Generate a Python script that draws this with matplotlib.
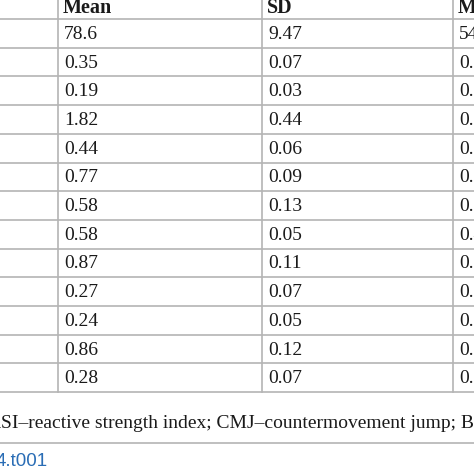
import matplotlib.pyplot as plt

means = ["78.6", "0.35", "0.19", "1.82", "0.44", "0.77", "0.58", "0.58",
         "0.87", "0.27", "0.24", "0.86", "0.28"]
sds = ["9.47", "0.07", "0.03", "0.44", "0.06", "0.09", "0.13", "0.05",
       "0.11", "0.07", "0.05", "0.12", "0.07"]
mins = ["54.0", "0.24", "0.13", "0.98", "0.33", "0.59", "0.33", "0.48",
        "0.66", "0.15", "0.15", "0.63", "0.15"]
headers = ["Mean", "SD", "Min"]
footnote = "RSI\u2013reactive strength index; CMJ\u2013countermovement jump; BL\u2013bilateral"
doi_tail = "4.t001"

plt.rcParams['font.family'] = ['Liberation Serif', 'DejaVu Serif']

fig = plt.figure(figsize=(4.74, 4.74), dpi=100)
ax = fig.add_axes([0, 0, 1, 1])
ax.set_xlim(0, 474)
ax.set_ylim(474, 0)
ax.axis('off')

line_c = '#b4b4b4'
col_x = [58, 262, 453]
top, row_h = 19, 28.7
n = len(means)
bottom = top + row_h * n

for x in col_x:
    ax.plot([x, x], [0, bottom], color=line_c, lw=1.2)
for i in range(n + 1):
    ax.plot([0, 474], [top + i * row_h] * 2, color=line_c, lw=1.2)

for x, h in zip(col_x, headers):
    ax.text(x + 5, 8, h, fontsize=14.5, fontweight='bold', va='center', color='#1a1a1a')

for i, row in enumerate(zip(means, sds, mins)):
    y = top + (i + 0.5) * row_h + 1
    for x, v in zip(col_x, row):
        ax.text(x + 6, y, v, fontsize=14, va='center', color='#1a1a1a')

ax.text(-12, 424, footnote, fontsize=14, va='center', color='#1a1a1a')
ax.plot([0, 474], [443, 443], color=line_c, lw=1.2)
ax.text(-4, 462, doi_tail, fontsize=13.5, va='center', color='#2a6db5',
        family=['Liberation Sans', 'DejaVu Sans'])

fig.savefig('out.png', dpi=100)
